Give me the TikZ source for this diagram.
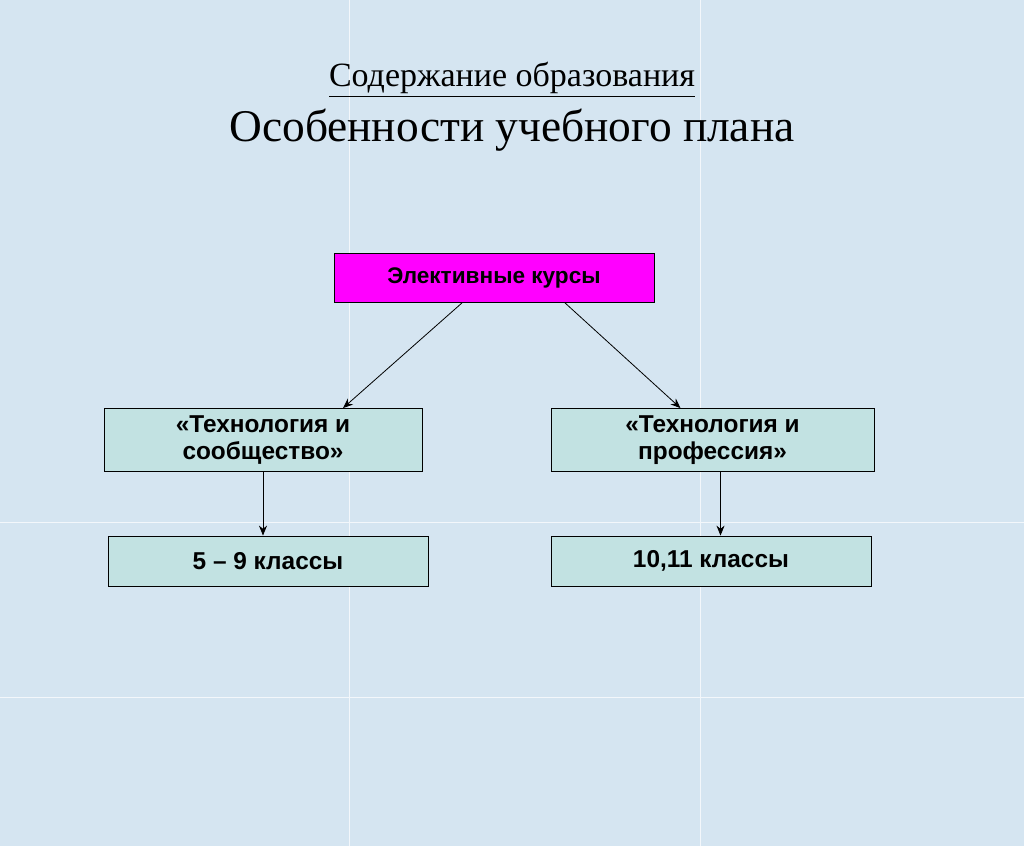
\documentclass[tikz,border=0pt]{standalone}
\usepackage{fontspec}
\setmainfont{Liberation Serif}
\newfontfamily\boxfont{Liberation Sans}
\usetikzlibrary{arrows.meta}
\definecolor{bgblue}{HTML}{D5E5F1}
\definecolor{boxfill}{HTML}{C2E2E2}
\definecolor{electpink}{HTML}{FF00FF}
\tikzset{
  plan box/.style={draw, fill=boxfill, inner sep=0pt, align=center,
    font=\boxfont\bfseries\fontsize{12.2}{13.5}\selectfont},
  plan arrow/.style={-{Stealth[length=5pt,width=4pt]}, thin}
}
\begin{document}
\begin{tikzpicture}[x=0.5pt,y=-0.5pt]
\fill[bgblue] (0,0) rectangle (1024,846);
\useasboundingbox (0,0) rectangle (1024,846);
\foreach \gx in {349,700} { \draw[white!70!bgblue] (\gx,0) -- (\gx,846); }
\foreach \gy in {522,697} { \draw[white!70!bgblue] (0,\gy) -- (1024,\gy); }

\node[font=\fontsize{17}{19}\selectfont] (subtitle) at (512,80) {\underline{Содержание образования}};
\node[font=\fontsize{22.7}{26}\selectfont] (title) at (512,130) {Особенности учебного плана};

\node[plan box, fill=electpink, font=\boxfont\bfseries\fontsize{11.3}{13}\selectfont,
  minimum width=160pt, minimum height=24.5pt] (elect) at (494,278) {Элективные курсы};
\node[plan box, minimum width=159pt, minimum height=31.5pt] (techsoc) at (263,440) {«Технология и\\сообщество»};
\node[plan box, minimum width=161.5pt, minimum height=31.5pt] (techpro) at (712.5,440) {«Технология и\\профессия»};
\node[plan box, minimum width=160pt, minimum height=25pt] (grades59) at (268,561) {5 – 9 классы};
\node[plan box, minimum width=160pt, minimum height=25pt] (grades1011) at (711,561) {10,11 классы};

\draw[plan arrow] ([xshift=-16pt]elect.south) -- ([xshift=40pt]techsoc.north);
\draw[plan arrow] ([xshift=35.5pt]elect.south) -- ([xshift=-16pt]techpro.north);
\draw[plan arrow] (techsoc.south) -- (techsoc.south |- grades59.north);
\draw[plan arrow] ([xshift=4pt]techpro.south) -- ([xshift=4pt]techpro.south |- grades1011.north);
\end{tikzpicture}
\end{document}
